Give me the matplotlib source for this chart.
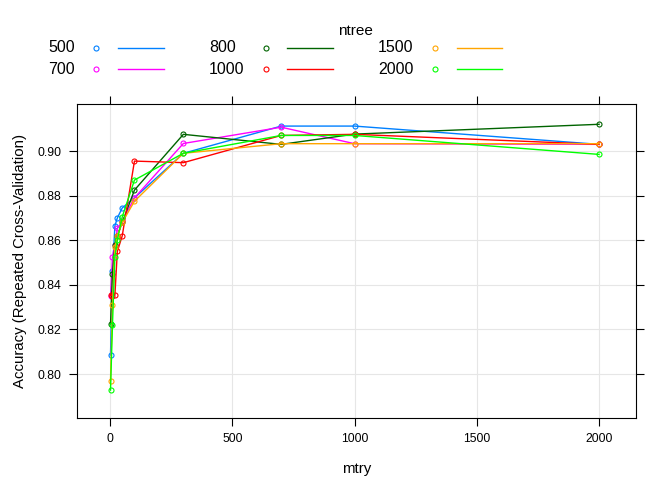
import matplotlib
matplotlib.use("Agg")
import matplotlib.pyplot as plt
from matplotlib.lines import Line2D

plt.rcParams['font.family'] = ['Liberation Sans', 'DejaVu Sans']

mtry = [2, 10, 20, 30, 50, 100, 300, 700, 1000, 2000]
ntree_labels = ["500", "700", "800", "1000", "1500", "2000"]
acc_500 = [0.8085, 0.846, 0.8665, 0.870, 0.8745, 0.879, 0.899, 0.9112, 0.9112, 0.903]
acc_700 = [0.835, 0.8525, 0.858, 0.8653, 0.8685, 0.879, 0.9034, 0.9107, 0.9033, 0.903]
acc_800 = [0.8224, 0.845, 0.858, 0.862, 0.868, 0.8825, 0.9075, 0.903, 0.9076, 0.912]
acc_1000 = [0.8355, 0.835, 0.8355, 0.855, 0.862, 0.8955, 0.8948, 0.907, 0.9075, 0.903]
acc_1500 = [0.797, 0.831, 0.857, 0.862, 0.868, 0.8775, 0.899, 0.9033, 0.9033, 0.9033]
acc_2000 = [0.7928, 0.822, 0.8525, 0.860, 0.8705, 0.887, 0.899, 0.907, 0.907, 0.8985]
series = [acc_500, acc_700, acc_800, acc_1000, acc_1500, acc_2000]
colors = ["#0080ff", "#ff00ff", "#006400", "#ff0000", "#ffa500", "#00ff00"]

xticks = [0, 500, 1000, 1500, 2000]
yticks = [0.80, 0.82, 0.84, 0.86, 0.88, 0.90]

W, H = 672, 480
fig = plt.figure(figsize=(W / 100, H / 100), dpi=100)
L, R, T, B = 77, 636, 104, 418
ax = fig.add_axes([L / W, 1 - B / H, (R - L) / W, (B - T) / H])

for x in xticks:
    ax.axvline(x, color="#e6e6e6", lw=0.8, zorder=0)
for y in yticks:
    ax.axhline(y, color="#e6e6e6", lw=0.8, zorder=0)

for vals, c in zip(series, colors):
    ax.plot(mtry, vals, color=c, lw=1.0, marker="o", ms=3.6, mfc="none",
            mec=c, mew=0.8, zorder=3)

ax.set_xlim(-135, 2151)
ax.set_ylim(0.7803, 0.9211)
ax.set_xticks(xticks)
ax.set_xticklabels([str(v) for v in xticks])
ax.set_yticks(yticks)
ax.set_yticklabels([f"{v:.2f}" for v in yticks])
ax.tick_params(direction="out", length=6, width=0.8, labelsize=8.8,
               top=True, right=True, labeltop=False, labelright=False, pad=5)
for s in ax.spines.values():
    s.set_linewidth(0.8)

ax.set_xlabel("mtry", fontsize=10.8, labelpad=12)
ax.set_ylabel("Accuracy (Repeated Cross-Validation)", fontsize=10.8, labelpad=8)

# legend (lattice-style key above the panel)
fig.text(355 / W, 1 - 31 / H, "ntree", ha="center", va="center", fontsize=11)
col_text_x = [48, 209, 378]
col_mark_x = [96, 266, 435]
col_line_x = [(118, 164), (287, 333), (457, 502)]
row_y = [48, 69]
for i, (lab, c) in enumerate(zip(ntree_labels, colors)):
    col, row = i // 2, i % 2
    yf = 1 - row_y[row] / H
    fig.text(col_text_x[col] / W, yf, lab, ha="left", va="center", fontsize=11.5)
    fig.add_artist(Line2D([col_mark_x[col] / W], [yf], marker="o", ms=3.6,
                          mfc="none", mec=c, mew=0.8, ls="none",
                          transform=fig.transFigure))
    x0, x1 = col_line_x[col]
    fig.add_artist(Line2D([x0 / W, x1 / W], [yf, yf], color=c, lw=1.0,
                          transform=fig.transFigure))

fig.savefig("out.png", dpi=100)
